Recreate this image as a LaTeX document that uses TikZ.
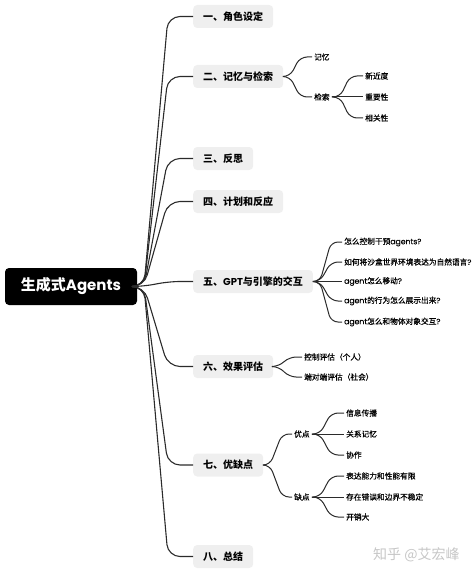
\documentclass[tikz,border=0pt]{standalone}
\usepackage{fontspec}
\setmainfont{Noto Sans CJK SC}
\newfontfamily\pop{Poppins}
\newfontfamily\leaffont[FakeBold=0.6]{Noto Sans CJK SC}
\newfontfamily\popm[FakeBold=0.4]{Poppins}
\newcommand{\lat}[1]{{\popm #1}}
\definecolor{linec}{HTML}{2B2B2B}
\definecolor{boxc}{HTML}{EFEFEF}
\tikzset{
  rootbox/.style={fill=black, text=white, rounded corners=4pt, minimum width=132pt, minimum height=37pt, inner sep=0pt},
  branch/.style={fill=boxc, rounded corners=4pt, minimum height=23pt, inner xsep=10pt, inner ysep=0pt, anchor=west, font=\bfseries\fontsize{10}{12}\selectfont},
  leaf/.style={anchor=west, inner sep=2pt, font=\leaffont\fontsize{7.7}{9}\selectfont},
  conn/.style={draw=linec, line width=1.1pt, rounded corners=12pt},
  subconn/.style={draw=linec, line width=1pt, rounded corners=7pt},
}
\begin{document}
\begin{tikzpicture}[x=1pt, y=-1pt]
\useasboundingbox (0,0) rectangle (474,575);
% root
\node[rootbox] (root) at (71,286.5) {\bfseries\fontsize{15}{18}\selectfont 生成式{\pop\bfseries Agents}};
% branches
\node[branch] (b1) at (193,16.5) {一、角色设定};
\node[branch] (b2) at (193,76.5) {二、记忆与检索};
\node[branch] (b3) at (193,158.5) {三、反思};
\node[branch] (b4) at (193,201.5) {四、计划和反应};
\node[branch] (b5) at (193,281.5) {五、{\pop\bfseries GPT}与引擎的交互};
\node[branch] (b6) at (193,366.5) {六、效果评估};
\node[branch] (b7) at (193,465) {七、优缺点};
\node[branch] (b8) at (193,556.5) {八、总结};
\foreach \b/\y in {b1/16.5,b2/76.5,b3/158.5,b4/201.5,b5/281.5,b6/366.5,b7/465,b8/556.5}{
  \draw[conn] (root.east) -- (144,286.5) -- (168,\y) -- (\b.west);
}
% 二
\node[leaf] (c21) at (312,57) {记忆};
\node[leaf] (c22) at (312,97) {检索};
\coordinate (f2) at (290,76.5);
\draw[subconn] (b2.east) -- (f2) -- (300,57) -- (c21.west);
\draw[subconn] (b2.east) -- (f2) -- (300,97) -- (c22.west);
\node[leaf] (g1) at (363,76) {新近度};
\node[leaf] (g2) at (363,97) {重要性};
\node[leaf] (g3) at (363,118) {相关性};
\coordinate (f22) at (340,97);
\draw[subconn] (c22.east) -- (f22) -- (350,76) -- (g1.west);
\draw[subconn] (c22.east) -- (g2.west);
\draw[subconn] (c22.east) -- (f22) -- (350,118) -- (g3.west);
% 五
\coordinate (f5) at (320,281.5);
\node[leaf] (c51) at (342,242) {怎么控制干预\lat{agents?}};
\node[leaf] (c52) at (342,262) {如何将沙盒世界环境表达为自然语言\lat{?}};
\node[leaf] (c53) at (342,281.5) {\lat{agent}怎么移动\lat{?}};
\node[leaf] (c54) at (342,301) {\lat{agent}的行为怎么展示出来\lat{?}};
\node[leaf] (c55) at (342,322) {\lat{agent}怎么和物体对象交互\lat{?}};
\draw[subconn] (b5.east) -- (f5) -- (331,242) -- (c51.west);
\draw[subconn] (b5.east) -- (f5) -- (331,262) -- (c52.west);
\draw[subconn] (b5.east) -- (c53.west);
\draw[subconn] (b5.east) -- (f5) -- (331,301) -- (c54.west);
\draw[subconn] (b5.east) -- (f5) -- (331,322) -- (c55.west);
% 六
\coordinate (f6) at (279,366.5);
\node[leaf] (c61) at (302,357) {控制评估（个人）};
\node[leaf] (c62) at (302,377) {端对端评估（社会）};
\draw[subconn] (b6.east) -- (f6) -- (289,357) -- (c61.west);
\draw[subconn] (b6.east) -- (f6) -- (289,377) -- (c62.west);
% 七
\coordinate (f7) at (270,465);
\node[leaf] (c71) at (292,434) {优点};
\node[leaf] (c72) at (292,497) {缺点};
\draw[subconn] (b7.east) -- (f7) -- (282,434) -- (c71.west);
\draw[subconn] (b7.east) -- (f7) -- (282,497) -- (c72.west);
\coordinate (f71) at (320,434);
\node[leaf] (d1) at (344,413) {信息传播};
\node[leaf] (d2) at (344,434) {关系记忆};
\node[leaf] (d3) at (344,455) {协作};
\draw[subconn] (c71.east) -- (f71) -- (331,413) -- (d1.west);
\draw[subconn] (c71.east) -- (d2.west);
\draw[subconn] (c71.east) -- (f71) -- (331,455) -- (d3.west);
\coordinate (f72) at (320,497);
\node[leaf] (e1) at (344,476) {表达能力和性能有限};
\node[leaf] (e2) at (344,497) {存在错误和边界不稳定};
\node[leaf] (e3) at (344,517) {开销大};
\draw[subconn] (c72.east) -- (f72) -- (331,476) -- (e1.west);
\draw[subconn] (c72.east) -- (e2.west);
\draw[subconn] (c72.east) -- (f72) -- (331,517) -- (e3.west);
% watermark
\node[anchor=west, inner sep=0pt, text=gray!45, font=\fontsize{14}{16}\selectfont] (wm) at (373,555) {知乎 @艾宏峰};
\end{tikzpicture}
\end{document}
